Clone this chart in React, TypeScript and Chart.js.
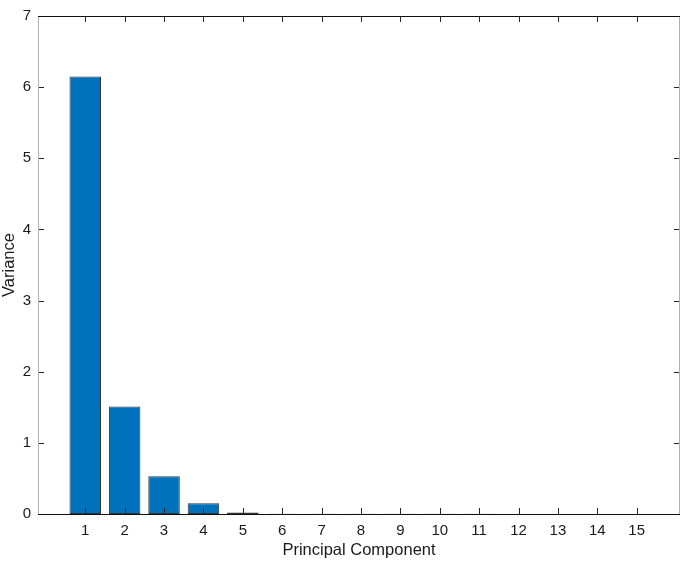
import React, { useEffect, useRef } from "react";
import { Chart, registerables } from "chart.js";

Chart.register(...registerables);

const components = [1, 2, 3, 4, 5, 6, 7, 8, 9, 10, 11, 12, 13, 14, 15];
const variances = [6.15, 1.51, 0.53, 0.15, 0.02, 0.004, 0.003, 0.003, 0.002, 0.002, 0.002, 0.001, 0.001, 0.001, 0.001];
const yTicks = [0, 1, 2, 3, 4, 5, 6, 7];
const xMin = -0.2;
const xMax = 16.1;

const FONT = "'Liberation Sans', Arial, Helvetica, sans-serif";

const boxPlugin = {
  id: "matlabBox",
  afterDatasetsDraw(chart: any) {
    const { ctx, chartArea, scales } = chart;
    const { left, right, top, bottom } = chartArea;
    const L = 6;
    ctx.save();
    ctx.lineWidth = 1;
    ctx.strokeStyle = "#262626";
    ctx.beginPath();
    for (const v of components) {
      const x = Math.round(scales.x.getPixelForValue(v)) + 0.5;
      ctx.moveTo(x, bottom);
      ctx.lineTo(x, bottom - L);
      ctx.moveTo(x, top);
      ctx.lineTo(x, top + L);
    }
    for (const v of yTicks) {
      const y = Math.round(scales.y.getPixelForValue(v)) + 0.5;
      ctx.moveTo(left, y);
      ctx.lineTo(left + L, y);
      ctx.moveTo(right, y);
      ctx.lineTo(right - L, y);
    }
    ctx.stroke();
    ctx.strokeStyle = "#b0b0b0";
    ctx.beginPath();
    ctx.moveTo(Math.round(left) + 0.5, top);
    ctx.lineTo(Math.round(left) + 0.5, bottom);
    ctx.moveTo(Math.round(right) - 0.5, top);
    ctx.lineTo(Math.round(right) - 0.5, bottom);
    ctx.stroke();
    ctx.strokeStyle = "#111";
    ctx.beginPath();
    ctx.moveTo(left, Math.round(top) + 0.5);
    ctx.lineTo(right, Math.round(top) + 0.5);
    ctx.moveTo(left, Math.round(bottom) + 0.5);
    ctx.lineTo(right, Math.round(bottom) + 0.5);
    ctx.stroke();
    ctx.restore();
  },
};

export default function App() {
  const ref = useRef<HTMLCanvasElement | null>(null);
  useEffect(() => {
    document.body.style.margin = "0";
    const chart = new Chart(ref.current as HTMLCanvasElement, {
      type: "bar",
      data: {
        datasets: [
          {
            data: components.map((c, i) => ({ x: c, y: variances[i] })),
            backgroundColor: "#0072BD",
            borderColor: "#333333",
            borderWidth: 1,
            borderSkipped: false,
            categoryPercentage: 1,
            barPercentage: 0.8,
          },
        ],
      },
      options: {
        animation: false,
        responsive: false,
        maintainAspectRatio: false,
        layout: { padding: { top: 5, right: 5, left: 0, bottom: 0 } },
        plugins: { legend: { display: false }, tooltip: { enabled: false } },
        scales: {
          x: {
            type: "linear",
            offset: false,
            min: xMin,
            max: xMax,
            grid: { display: false, drawTicks: false, offset: false },
            border: { display: false },
            afterBuildTicks: (scale: any) => {
              scale.ticks = components.map((v) => ({ value: v }));
            },
            afterFit: (scale: any) => {
              scale.height = 51;
            },
            ticks: {
              autoSkip: false,
              maxRotation: 0,
              padding: 8,
              color: "#1a1a1a",
              font: { family: FONT, size: 15 },
              callback: (v: any) => String(v),
            },
            title: {
              display: true,
              text: "Principal Component",
              color: "#1a1a1a",
              font: { family: FONT, size: 16.5 },
              padding: { top: 0, bottom: 5 },
            },
          },
          y: {
            type: "linear",
            min: 0,
            max: 7,
            grid: { display: false, drawTicks: false },
            border: { display: false },
            afterBuildTicks: (scale: any) => {
              scale.ticks = yTicks.map((v) => ({ value: v }));
            },
            afterFit: (scale: any) => {
              scale.width = 38;
            },
            ticks: {
              padding: 7,
              color: "#1a1a1a",
              font: { family: FONT, size: 15 },
            },
            title: {
              display: true,
              text: "Variance",
              color: "#1a1a1a",
              font: { family: FONT, size: 16.5 },
              padding: { top: 0, bottom: 0 },
            },
          },
        },
      },
      plugins: [boxPlugin],
    } as any);
    return () => chart.destroy();
  }, []);
  return (
    <div style={{ position: "absolute", left: 0, top: 0, width: 685, height: 565, background: "#fff" }}>
      <canvas ref={ref} width={685} height={565} style={{ width: 685, height: 565 }} />
    </div>
  );
}
